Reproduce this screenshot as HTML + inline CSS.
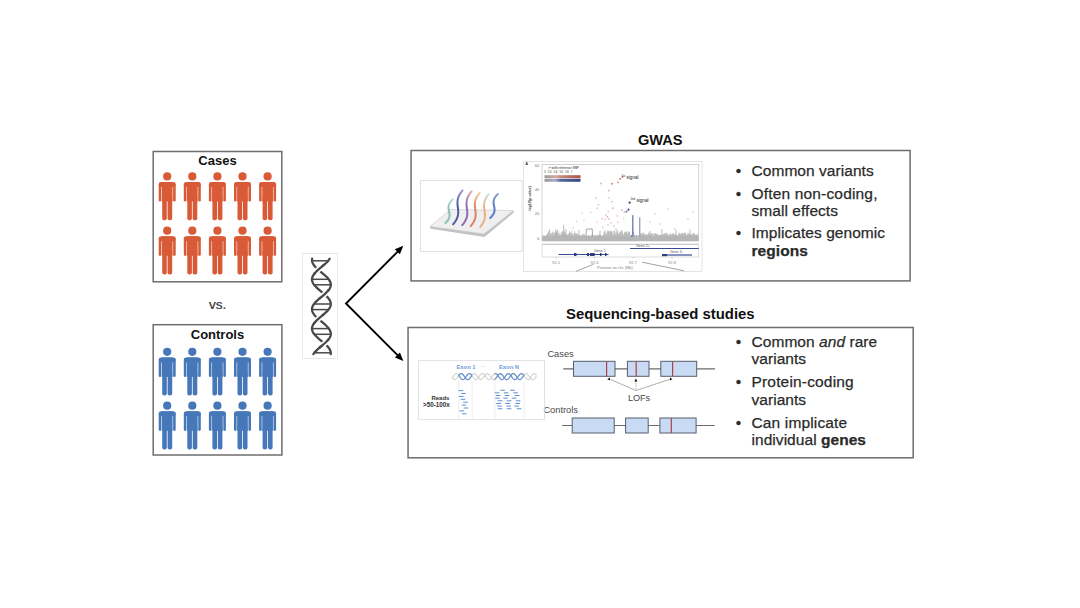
<!DOCTYPE html>
<html><head><meta charset="utf-8">
<style>
html,body{margin:0;padding:0;background:#fff;}
body{width:1080px;height:608px;position:relative;overflow:hidden;font-family:"Liberation Sans",sans-serif;color:#222;}
.abs{position:absolute;}
.box{position:absolute;border:1.3px solid #5f5f5f;box-sizing:border-box;}
.t{position:absolute;white-space:nowrap;line-height:1;}
.b{font-weight:bold;color:#111;}
ul.bl{position:absolute;margin:0;padding:0;list-style:none;font-size:15.5px;letter-spacing:0.05px;color:#2a2a2a;-webkit-text-stroke:0.25px #2a2a2a;}
ul.bl li{position:relative;padding-left:0;}
ul.bl li:before{content:"\2022";position:absolute;left:-15.7px;}
svg{position:absolute;overflow:visible;}
#gb li+li{margin-top:4.65px;}
#sb li+li{margin-top:6px;}
</style></head>
<body>
<svg width="0" height="0" style="position:absolute"><defs><g id="person">
<circle cx="9" cy="4.2" r="4.1"/>
<rect x="0.5" y="9.8" width="17" height="5" rx="2.4"/>
<rect x="0.5" y="11" width="2.6" height="18.4" rx="1.3"/>
<rect x="14.9" y="11" width="2.6" height="18.4" rx="1.3"/>
<rect x="3.65" y="9.8" width="10.7" height="19.5"/>
<rect x="4.0" y="24" width="4.6" height="24" rx="2"/>
<rect x="9.4" y="24" width="4.6" height="24" rx="2"/>
</g></defs></svg>
<svg id="boxes" style="left:0;top:0" width="1080" height="608"><rect x="153.2" y="151.5" width="128.6" height="130.3" fill="none" stroke="#6e6e6e" stroke-width="1.5"/><rect x="153.2" y="324.7" width="128.7" height="130.3" fill="none" stroke="#6e6e6e" stroke-width="1.5"/><rect x="411.05" y="150.5" width="499.05" height="130.4" fill="none" stroke="#6e6e6e" stroke-width="1.5"/><rect x="408.06" y="327.5" width="505.14" height="130.3" fill="none" stroke="#6e6e6e" stroke-width="1.5"/></svg>
<div class="t b" style="left:167.5px;width:100px;text-align:center;top:153.7px;font-size:13px;">Cases</div>
<svg style="left:0;top:0" width="1080" height="608" id="cases" fill="#d95a37">
<use href="#person" x="158.2" y="172.2"/>
<use href="#person" x="183.3" y="172.2"/>
<use href="#person" x="208.4" y="172.2"/>
<use href="#person" x="233.5" y="172.2"/>
<use href="#person" x="258.6" y="172.2"/>
<use href="#person" x="158.2" y="226.5"/>
<use href="#person" x="183.3" y="226.5"/>
<use href="#person" x="208.4" y="226.5"/>
<use href="#person" x="233.5" y="226.5"/>
<use href="#person" x="258.6" y="226.5"/>
</svg>
<div class="t" style="left:208.9px;top:297.7px;font-size:13.6px;color:#333;-webkit-text-stroke:0.2px #333;">vs.</div>
<div class="t b" style="left:167.5px;width:100px;text-align:center;top:328.3px;font-size:13px;">Controls</div>
<svg style="left:0;top:0" width="1080" height="608" id="controls" fill="#4678b9">
<use href="#person" x="158.2" y="347.6"/>
<use href="#person" x="183.3" y="347.6"/>
<use href="#person" x="208.4" y="347.6"/>
<use href="#person" x="233.5" y="347.6"/>
<use href="#person" x="258.6" y="347.6"/>
<use href="#person" x="158.2" y="401.5"/>
<use href="#person" x="183.3" y="401.5"/>
<use href="#person" x="208.4" y="401.5"/>
<use href="#person" x="233.5" y="401.5"/>
<use href="#person" x="258.6" y="401.5"/>
</svg>
<div class="abs" style="left:302px;top:253px;width:35.5px;height:106px;border:1px solid #e8e8e8;box-sizing:border-box;"></div>
<svg id="dna" style="left:0;top:0" width="1080" height="608"><line x1="312.05" y1="260.8" x2="328.17" y2="260.8" stroke="#484848" stroke-width="1.5"/>
<line x1="312" y1="279.3" x2="328.73" y2="279.3" stroke="#484848" stroke-width="1.5"/>
<line x1="314.15" y1="284.8" x2="330.8" y2="284.8" stroke="#484848" stroke-width="1.5"/>
<line x1="314" y1="304" x2="330.8" y2="304" stroke="#484848" stroke-width="1.5"/>
<line x1="312.01" y1="309.6" x2="328.5" y2="309.6" stroke="#484848" stroke-width="1.5"/>
<line x1="312" y1="328.6" x2="328.8" y2="328.6" stroke="#484848" stroke-width="1.5"/>
<line x1="314.38" y1="334.3" x2="330.78" y2="334.3" stroke="#484848" stroke-width="1.5"/>
<line x1="314.3" y1="352.8" x2="330.79" y2="352.8" stroke="#484848" stroke-width="1.5"/>
<path d="M329.66,258.7 L329.35,259.2 L329.02,259.7 L328.65,260.21 L328.25,260.71 L327.82,261.21 L327.37,261.71 L326.89,262.21 L326.39,262.72 L325.87,263.22 L325.33,263.72 L324.78,264.22 L324.21,264.73 L323.63,265.23 L323.04,265.73 L322.44,266.23 L321.84,266.73 L321.24,267.24 L320.64,267.74 L320.04,268.24 L319.44,268.74 L318.86,269.24 L318.28,269.75 L317.72,270.25 L317.17,270.75 L316.65,271.25 L316.14,271.75 L315.65,272.26 L315.18,272.76 L314.74,273.26 L314.33,273.76 L313.95,274.27 L313.6,274.77 L313.28,275.27 L312.99,275.77 L312.74,276.27 L312.52,276.78 L312.34,277.28 L312.2,277.78 L312.1,278.28 L312.03,278.78 L312,279.29 L312.01,279.79 L312.06,280.29 L312.15,280.79 L312.27,281.29 L312.44,281.8 L312.64,282.3 L312.87,282.8 L313.14,283.3 L313.45,283.81 L313.79,284.31 L314.16,284.81 L314.55,285.31 L314.98,285.81 L315.43,286.32 L315.91,286.82 L316.41,287.32 L316.93,287.82 L317.47,288.32 L318.03,288.83 L318.6,289.33 L319.18,289.83 L319.77,290.33 L320.36,290.83 L320.96,291.34 L321.57,291.84 L322.17,292.34 L322.77,292.84 L323.36,293.35 L323.95,293.85 L324.52,294.35 L325.08,294.85 L325.63,295.35 L326.16,295.86 L326.67,296.36 L327.16,296.86 L327.62,297.36 L328.06,297.86 L328.47,298.37 L328.85,298.87 L329.2,299.37 L329.52,299.87 L329.81,300.37 L330.06,300.88 L330.28,301.38 L330.46,301.88 L330.6,302.38 L330.7,302.89 L330.77,303.39 L330.8,303.89 L330.79,304.39 L330.74,304.89 L330.65,305.4 L330.53,305.9 L330.36,306.4 L330.16,306.9 L329.93,307.4 L329.65,307.91 L329.35,308.41 L329.01,308.91 L328.64,309.41 L328.24,309.91 L327.82,310.42 L327.36,310.92 L326.89,311.42 L326.38,311.92 L325.86,312.43 L325.32,312.93 L324.77,313.43 L324.2,313.93 L323.62,314.43 L323.03,314.94 L322.43,315.44 L321.83,315.94 L321.23,316.44 L320.63,316.94 L320.03,317.45 L319.44,317.95 L318.85,318.45 L318.28,318.95 L317.71,319.45 L317.17,319.96 L316.64,320.46 L316.13,320.96 L315.64,321.46 L315.18,321.97 L314.74,322.47 L314.33,322.97 L313.94,323.47 L313.59,323.97 L313.27,324.48 L312.99,324.98 L312.74,325.48 L312.52,325.98 L312.34,326.48 L312.2,326.99 L312.09,327.49 L312.03,327.99 L312,328.49 L312.01,328.99 L312.06,329.5 L312.15,330 L312.28,330.5 L312.44,331 L312.64,331.51 L312.88,332.01 L313.15,332.51 L313.45,333.01 L313.79,333.51 L314.16,334.02 L314.56,334.52 L314.99,335.02 L315.44,335.52 L315.92,336.02 L316.42,336.53 L316.94,337.03 L317.48,337.53 L318.03,338.03 L318.6,338.53 L319.18,339.04 L319.77,339.54 L320.37,340.04 L320.97,340.54 L321.57,341.05 L322.18,341.55 L322.77,342.05 L323.37,342.55 L323.95,343.05 L324.53,343.56 L325.09,344.06 L325.64,344.56 L326.16,345.06 L326.67,345.56 L327.16,346.07 L327.63,346.57 L328.06,347.07 L328.48,347.57 L328.86,348.07 L329.21,348.58 L329.53,349.08 L329.81,349.58 L330.07,350.08 L330.28,350.59 L330.46,351.09 L330.6,351.59 L330.71,352.09 L330.77,352.59 L330.8,353.1 L330.79,353.6 L330.74,354.1" fill="none" stroke="#484848" stroke-width="2.3" stroke-linecap="round"/>
<path d="M312.13,258.7 L312.05,259.2 L312.01,259.7 L312,260.21 L312.04,260.71 L312.11,261.21 L312.22,261.71 L312.37,262.21 L312.56,262.72 L312.78,263.22 L313.04,263.72 L313.33,264.22 L313.66,264.73 L314.02,265.23 L314.41,265.73 L314.82,266.23 L315.27,266.73 L315.74,267.24 L316.23,267.74 L316.74,268.24 L317.27,268.74 L317.82,269.24 L318.39,269.75 L318.97,270.25 L319.55,270.75 L320.15,271.25 L320.75,271.75 L321.35,272.26 L321.95,272.76 L322.55,273.26 L323.15,273.76 L323.73,274.27 L324.31,274.77 L324.88,275.27 L325.43,275.77 L325.97,276.27 L326.49,276.78 L326.98,277.28 L327.45,277.78 L327.9,278.28 L328.32,278.78 L328.72,279.29 L329.08,279.79 L329.41,280.29 L329.71,280.79 L329.97,281.29 L330.2,281.8 L330.4,282.3 L330.55,282.8 L330.67,283.3 L330.75,283.81 L330.79,284.31 L330.8,284.81 L330.76,285.31 L330.69,285.81 L330.58,286.32 L330.43,286.82 L330.24,287.32 L330.02,287.82 L329.76,288.32 L329.46,288.83 L329.14,289.33 L328.78,289.83 L328.39,290.33 L327.97,290.83 L327.53,291.34 L327.06,291.84 L326.57,292.34 L326.06,292.84 L325.52,293.35 L324.97,293.85 L324.41,294.35 L323.83,294.85 L323.24,295.35 L322.65,295.86 L322.05,296.36 L321.45,296.86 L320.85,297.36 L320.25,297.86 L319.65,298.37 L319.06,298.87 L318.48,299.37 L317.92,299.87 L317.36,300.37 L316.83,300.88 L316.31,301.38 L315.82,301.88 L315.34,302.38 L314.89,302.89 L314.47,303.39 L314.08,303.89 L313.72,304.39 L313.39,304.89 L313.09,305.4 L312.82,305.9 L312.59,306.4 L312.4,306.9 L312.25,307.4 L312.13,307.91 L312.05,308.41 L312.01,308.91 L312,309.41 L312.04,309.91 L312.11,310.42 L312.23,310.92 L312.38,311.42 L312.56,311.92 L312.79,312.43 L313.04,312.93 L313.34,313.43 L313.66,313.93 L314.02,314.43 L314.41,314.94 L314.83,315.44 L315.27,315.94 L315.74,316.44 L316.23,316.94 L316.75,317.45 L317.28,317.95 L317.83,318.45 L318.4,318.95 L318.97,319.45 L319.56,319.96 L320.15,320.46 L320.75,320.96 L321.36,321.46 L321.96,321.97 L322.56,322.47 L323.15,322.97 L323.74,323.47 L324.32,323.97 L324.89,324.48 L325.44,324.98 L325.97,325.48 L326.49,325.98 L326.99,326.48 L327.46,326.99 L327.91,327.49 L328.33,327.99 L328.72,328.49 L329.08,328.99 L329.42,329.5 L329.71,330 L329.98,330.5 L330.21,331 L330.4,331.51 L330.55,332.01 L330.67,332.51 L330.75,333.01 L330.79,333.51 L330.8,334.02 L330.76,334.52 L330.69,335.02 L330.57,335.52 L330.42,336.02 L330.24,336.53 L330.01,337.03 L329.75,337.53 L329.46,338.03 L329.13,338.53 L328.78,339.04 L328.39,339.54 L327.97,340.04 L327.52,340.54 L327.06,341.05 L326.56,341.55 L326.05,342.05 L325.52,342.55 L324.97,343.05 L324.4,343.56 L323.82,344.06 L323.24,344.56 L322.64,345.06 L322.04,345.56 L321.44,346.07 L320.84,346.57 L320.24,347.07 L319.64,347.57 L319.05,348.07 L318.48,348.58 L317.91,349.08 L317.36,349.58 L316.82,350.08 L316.31,350.59 L315.81,351.09 L315.34,351.59 L314.89,352.09 L314.47,352.59 L314.08,353.1 L313.71,353.6 L313.38,354.1" fill="none" stroke="#484848" stroke-width="2.3" stroke-linecap="round"/>
<path d="M322.12,266.5 L321.48,267.03 L320.84,267.57 L320.2,268.1 L319.57,268.63 L318.95,269.17 L318.34,269.7 L317.74,270.23 L317.16,270.77 L316.6,271.3 L316.06,271.83 L315.54,272.37 L315.06,272.9" fill="none" stroke="#fff" stroke-width="5.6"/>
<path d="M323.66,265.2 L323.07,265.7 L322.48,266.2 L321.88,266.7 L321.28,267.2 L320.68,267.7 L320.08,268.2 L319.49,268.7 L318.91,269.2 L318.34,269.7 L317.78,270.2 L317.23,270.7 L316.7,271.2 L316.19,271.7 L315.7,272.2 L315.24,272.7 L314.8,273.2 L314.38,273.7 L314,274.2" fill="none" stroke="#484848" stroke-width="2.3"/>
<path d="M327.74,291.1 L327.26,291.63 L326.74,292.17 L326.2,292.7 L325.64,293.23 L325.06,293.77 L324.46,294.3 L323.85,294.83 L323.23,295.37 L322.6,295.9 L321.96,296.43 L321.32,296.97 L320.68,297.5" fill="none" stroke="#fff" stroke-width="5.6"/>
<path d="M328.8,289.8 L328.42,290.3 L328,290.8 L327.56,291.3 L327.1,291.8 L326.61,292.3 L326.1,292.8 L325.57,293.3 L325.02,293.8 L324.46,294.3 L323.89,294.8 L323.31,295.3 L322.72,295.8 L322.12,296.3 L321.52,296.8 L320.92,297.3 L320.32,297.8 L319.73,298.3 L319.14,298.8" fill="none" stroke="#484848" stroke-width="2.3"/>
<path d="M322.12,315.7 L321.48,316.23 L320.84,316.77 L320.2,317.3 L319.57,317.83 L318.95,318.37 L318.34,318.9 L317.74,319.43 L317.16,319.97 L316.6,320.5 L316.06,321.03 L315.54,321.57 L315.06,322.1" fill="none" stroke="#fff" stroke-width="5.6"/>
<path d="M323.66,314.4 L323.07,314.9 L322.48,315.4 L321.88,315.9 L321.28,316.4 L320.68,316.9 L320.08,317.4 L319.49,317.9 L318.91,318.4 L318.34,318.9 L317.78,319.4 L317.23,319.9 L316.7,320.4 L316.19,320.9 L315.7,321.4 L315.24,321.9 L314.8,322.4 L314.38,322.9 L314,323.4" fill="none" stroke="#484848" stroke-width="2.3"/>
<path d="M327.74,340.3 L327.26,340.83 L326.74,341.37 L326.2,341.9 L325.64,342.43 L325.06,342.97 L324.46,343.5 L323.85,344.03 L323.23,344.57 L322.6,345.1 L321.96,345.63 L321.32,346.17 L320.68,346.7" fill="none" stroke="#fff" stroke-width="5.6"/>
<path d="M328.8,339 L328.42,339.5 L328,340 L327.56,340.5 L327.1,341 L326.61,341.5 L326.1,342 L325.57,342.5 L325.02,343 L324.46,343.5 L323.89,344 L323.31,344.5 L322.72,345 L322.12,345.5 L321.52,346 L320.92,346.5 L320.32,347 L319.73,347.5 L319.14,348" fill="none" stroke="#484848" stroke-width="2.3"/></svg>
<svg id="arrows" style="left:0;top:0" width="1080" height="608"><path d="M398.5,250.8 L346,303.5 L398.5,356.2" fill="none" stroke="#000" stroke-width="1.9" stroke-linejoin="miter"/><path d="M403.3,245.8 L399.86,254.37 L394.76,249.29 z" fill="#000"/><path d="M403.4,361 L394.85,357.53 L399.94,352.44 z" fill="#000"/></svg>
<div class="t b" style="left:638px;top:133px;font-size:14.6px;">GWAS</div>
<svg id="gwas" style="left:0;top:0" width="1080" height="608" font-family="Liberation Sans, sans-serif">
<rect x="420.5" y="180.5" width="101.5" height="71" fill="#fff" stroke="#e2e2e2" stroke-width="1"/>
<path d="M430,226.5 L450.5,209.5 L513.5,210.5 L484,234 z" fill="#efefef" stroke="#d0d0d0" stroke-width="0.8"/>
<path d="M430,226.5 L484,234 L513.5,210.5 L513.5,212.8 L484.5,237 L430.5,228.8 z" fill="#c2c2c2"/>
<defs><linearGradient id="sg0" gradientUnits="userSpaceOnUse" x1="452.7" y1="199.5" x2="445.4" y2="223"><stop offset="0" stop-color="#b9ddd5"/><stop offset="0.45" stop-color="#86c0b4"/><stop offset="1" stop-color="#86c0b4"/></linearGradient><linearGradient id="sg1" gradientUnits="userSpaceOnUse" x1="462.6" y1="190.4" x2="453.1" y2="224.3"><stop offset="0" stop-color="#a895cb"/><stop offset="0.45" stop-color="#4a5ea8"/><stop offset="1" stop-color="#4a5ea8"/></linearGradient><linearGradient id="sg2" gradientUnits="userSpaceOnUse" x1="471.6" y1="191.3" x2="462.2" y2="225.2"><stop offset="0" stop-color="#e3aea6"/><stop offset="0.45" stop-color="#8c6cb4"/><stop offset="1" stop-color="#8c6cb4"/></linearGradient><linearGradient id="sg3" gradientUnits="userSpaceOnUse" x1="479.8" y1="192.7" x2="470.7" y2="226.1"><stop offset="0" stop-color="#f3cfa8"/><stop offset="0.45" stop-color="#dc8261"/><stop offset="1" stop-color="#dc8261"/></linearGradient><linearGradient id="sg4" gradientUnits="userSpaceOnUse" x1="488.8" y1="194" x2="480.2" y2="227"><stop offset="0" stop-color="#c4e2da"/><stop offset="0.45" stop-color="#ebb07c"/><stop offset="1" stop-color="#ebb07c"/></linearGradient><linearGradient id="sg5" gradientUnits="userSpaceOnUse" x1="497.9" y1="194" x2="490.2" y2="218"><stop offset="0" stop-color="#8ea3d6"/><stop offset="0.45" stop-color="#5b7cc3"/><stop offset="1" stop-color="#5b7cc3"/></linearGradient></defs>
<polyline points="452.7,199.5 451.74,200.48 450.89,201.46 450.16,202.44 449.57,203.42 449.11,204.4 448.79,205.38 448.59,206.35 448.52,207.33 448.56,208.31 448.67,209.29 448.85,210.27 449.05,211.25 449.25,212.23 449.43,213.21 449.54,214.19 449.58,215.17 449.51,216.15 449.31,217.12 448.99,218.1 448.53,219.08 447.94,220.06 447.21,221.04 446.36,222.02 445.4,223" fill="none" stroke="url(#sg0)" stroke-width="2" stroke-linecap="round" stroke-linejoin="round"/>
<polyline points="462.6,190.4 461.44,191.81 460.42,193.22 459.55,194.64 458.83,196.05 458.27,197.46 457.87,198.88 457.61,200.29 457.48,201.7 457.47,203.11 457.54,204.53 457.68,205.94 457.85,207.35 458.02,208.76 458.16,210.18 458.23,211.59 458.22,213 458.09,214.41 457.83,215.83 457.43,217.24 456.87,218.65 456.15,220.06 455.28,221.48 454.26,222.89 453.1,224.3" fill="none" stroke="url(#sg1)" stroke-width="2" stroke-linecap="round" stroke-linejoin="round"/>
<polyline points="471.6,191.3 470.45,192.71 469.44,194.12 468.57,195.54 467.86,196.95 467.31,198.36 466.9,199.78 466.65,201.19 466.52,202.6 466.51,204.01 466.59,205.43 466.73,206.84 466.9,208.25 467.07,209.66 467.21,211.07 467.29,212.49 467.28,213.9 467.15,215.31 466.9,216.72 466.49,218.14 465.94,219.55 465.23,220.96 464.36,222.38 463.35,223.79 462.2,225.2" fill="none" stroke="url(#sg2)" stroke-width="2" stroke-linecap="round" stroke-linejoin="round"/>
<polyline points="479.8,192.7 478.68,194.09 477.69,195.48 476.84,196.88 476.15,198.27 475.61,199.66 475.22,201.05 474.97,202.44 474.85,203.83 474.85,205.22 474.93,206.62 475.07,208.01 475.25,209.4 475.43,210.79 475.57,212.18 475.65,213.57 475.65,214.97 475.53,216.36 475.28,217.75 474.89,219.14 474.35,220.53 473.66,221.92 472.81,223.32 471.82,224.71 470.7,226.1" fill="none" stroke="url(#sg3)" stroke-width="2" stroke-linecap="round" stroke-linejoin="round"/>
<polyline points="488.8,194 487.72,195.38 486.77,196.75 485.96,198.12 485.29,199.5 484.77,200.88 484.4,202.25 484.17,203.62 484.07,205 484.07,206.38 484.16,207.75 484.32,209.12 484.5,210.5 484.68,211.88 484.84,213.25 484.93,214.62 484.93,216 484.83,217.38 484.6,218.75 484.23,220.12 483.71,221.5 483.04,222.88 482.23,224.25 481.28,225.62 480.2,227" fill="none" stroke="url(#sg4)" stroke-width="2" stroke-linecap="round" stroke-linejoin="round"/>
<polyline points="497.9,194 496.9,195 496.02,196 495.27,197 494.65,198 494.17,199 493.84,200 493.63,201 493.55,202 493.58,203 493.69,204 493.85,205 494.05,206 494.25,207 494.41,208 494.52,209 494.55,210 494.47,211 494.26,212 493.93,213 493.45,214 492.83,215 492.08,216 491.2,217 490.2,218" fill="none" stroke="url(#sg5)" stroke-width="2" stroke-linecap="round" stroke-linejoin="round"/>
<rect x="523.5" y="161.5" width="178.5" height="110" fill="none" stroke="#e4e4e4" stroke-width="1"/>
<rect x="542" y="164.5" width="156.7" height="76.5" fill="none" stroke="#c8c8c8" stroke-width="0.8"/>
<line x1="542" y1="244.3" x2="698.7" y2="244.3" stroke="#bdbdbd" stroke-width="1"/>
<rect x="542" y="244.3" width="156.7" height="12.7" fill="none" stroke="#cfcfcf" stroke-width="0.7"/>
<text x="539.3" y="167" font-size="4.2" fill="#777" text-anchor="end">60</text>
<text x="539.3" y="191" font-size="4.2" fill="#777" text-anchor="end">40</text>
<text x="539.3" y="215" font-size="4.2" fill="#777" text-anchor="end">20</text>
<text x="539.3" y="240" font-size="4.2" fill="#777" text-anchor="end">0</text>
<text x="530.7" y="199" font-size="3.6" font-weight="bold" fill="#444" text-anchor="middle" transform="rotate(-90 530.7 199)">-log10(p-value)</text>
<text x="525.3" y="165.2" font-size="4" font-weight="bold" fill="#333">A</text>
<rect x="542.3" y="236.8" width="156" height="4" fill="#b9b9b9"/>
<polygon points="542.3,241 542.3,235.48 542.85,235.76 543.4,234.96 543.95,235.88 544.5,235.14 545.05,235.41 545.6,235.91 546.15,234.94 546.7,234.85 547.25,233.1 547.8,233.87 548.35,231.56 548.9,230.73 549.45,229.02 550,230.35 550.55,234.6 551.1,233.81 551.65,233.52 552.2,230.92 552.75,231.84 553.3,235.51 553.85,231.25 554.4,233.27 554.95,232.12 555.5,230.36 556.05,233.29 556.6,231.67 557.15,229.86 557.7,229.17 558.25,233.09 558.8,233.8 559.35,234.96 559.9,229.96 560.45,235.08 561,234.6 561.55,231.67 562.1,231.86 562.65,230.65 563.2,231.88 563.75,234.6 564.3,231.32 564.85,229.89 565.4,233.42 565.95,234.81 566.5,234.34 567.05,235.49 567.6,234.06 568.15,233.45 568.7,234.16 569.25,232.26 569.8,230.08 570.35,233.09 570.9,233.36 571.45,229.32 572,234.79 572.55,234.35 573.1,231.98 573.65,235.56 574.2,233.3 574.75,229.85 575.3,233.61 575.85,233.32 576.4,233.66 576.95,232.57 577.5,233.74 578.05,235.1 578.6,234.83 579.15,235.37 579.7,234.89 580.25,235.92 580.8,235.5 581.35,235.35 581.9,233.07 582.45,235.13 583,234.53 583.55,233.68 584.1,233.25 584.65,235.01 585.2,235.84 585.75,235.45 586.3,235.58 586.85,234.67 587.4,235.74 587.95,235.96 588.5,234.48 589.05,235.15 589.6,235.77 590.15,235.13 590.7,235.96 591.25,235.16 591.8,234.43 592.35,234.62 592.9,234.89 593.45,235.58 594,235.41 594.55,235.73 595.1,234.76 595.65,235.15 596.2,234.75 596.75,235.47 597.3,235.64 597.85,234.7 598.4,234.42 598.95,234.64 599.5,234.71 600.05,234.69 600.6,234.82 601.15,235.64 601.7,235.17 602.25,235.43 602.8,235.95 603.35,234.28 603.9,231.43 604.45,231.79 605,228.57 605.55,232.28 606.1,234.29 606.65,234.46 607.2,229.6 607.75,231.78 608.3,230.16 608.85,231.9 609.4,229.85 609.95,231.93 610.5,230.98 611.05,230.66 611.6,232.07 612.15,229.68 612.7,233.82 613.25,234.89 613.8,229.71 614.35,230.81 614.9,230.49 615.45,232.15 616,235.7 616.55,230.55 617.1,229.56 617.65,230.08 618.2,233.41 618.75,233.84 619.3,232.1 619.85,233.07 620.4,230.33 620.95,232.68 621.5,229.64 622.05,229.82 622.6,232.01 623.15,235.05 623.7,234.2 624.25,231.2 624.8,232.88 625.35,231.5 625.9,232.37 626.45,230.41 627,232.47 627.55,233.94 628.1,231.72 628.65,230.54 629.2,231.88 629.75,231.99 630.3,235.18 630.85,234.89 631.4,235.28 631.95,235.15 632.5,235.24 633.05,234.49 633.6,234.88 634.15,234.6 634.7,234.49 635.25,235.58 635.8,235.1 636.35,234.49 636.9,234.66 637.45,235.78 638,235.81 638.55,235.29 639.1,235.88 639.65,235.61 640.2,234.01 640.75,232.23 641.3,233.75 641.85,234.54 642.4,231.88 642.95,232.98 643.5,234 644.05,232.09 644.6,234.53 645.15,234.23 645.7,234.79 646.25,234.79 646.8,233.88 647.35,235.04 647.9,233.57 648.45,233.14 649,232.02 649.55,235.09 650.1,233.76 650.65,235.2 651.2,232.77 651.75,233.97 652.3,233.19 652.85,233.13 653.4,235.7 653.95,233.71 654.5,233.26 655.05,232.74 655.6,233.47 656.15,233.48 656.7,234.32 657.25,232.52 657.8,235.21 658.35,234.49 658.9,235.37 659.45,235.35 660,234.65 660.55,233.97 661.1,234.7 661.65,235.39 662.2,235.56 662.75,233.28 663.3,234.37 663.85,234.21 664.4,233.48 664.95,232.87 665.5,233.95 666.05,232.15 666.6,233.12 667.15,233.09 667.7,234.38 668.25,235.55 668.8,233.81 669.35,235.13 669.9,233.51 670.45,232.73 671,234.87 671.55,234.24 672.1,234.5 672.65,232.89 673.2,232.91 673.75,232.91 674.3,234.51 674.85,234.93 675.4,233.83 675.95,234.27 676.5,235.25 677.05,234.74 677.6,235.87 678.15,234.86 678.7,233.58 679.25,232.96 679.8,232.39 680.35,234.46 680.9,234.01 681.45,233.04 682,233.59 682.55,232.82 683.1,232.55 683.65,234.31 684.2,232.86 684.75,232.4 685.3,232.57 685.85,232.97 686.4,235.54 686.95,234.78 687.5,233.49 688.05,233.35 688.6,233.09 689.15,235.21 689.7,232.63 690.25,233.7 690.8,234.76 691.35,234.11 691.9,235.14 692.45,234.26 693,232.08 693.55,234.14 694.1,233.32 694.65,233.05 695.2,234.75 695.75,235.05 696.3,233.96 696.85,235.06 697.4,235.15 697.95,232.99 698.5,234.92 698.5,241" fill="#bdbdbd"/>
<rect x="542.3" y="236.3" width="156.2" height="4.5" fill="#b6b6b6"/>
<line x1="563.7" y1="237" x2="563.7" y2="224.6" stroke="#aaa" stroke-width="0.8"/>
<line x1="566" y1="237" x2="566" y2="229" stroke="#aaa" stroke-width="0.8"/>
<line x1="556" y1="237" x2="556" y2="229.5" stroke="#aaa" stroke-width="0.8"/>
<line x1="579" y1="237" x2="579" y2="230" stroke="#aaa" stroke-width="0.8"/>
<line x1="600" y1="237" x2="600" y2="231" stroke="#aaa" stroke-width="0.8"/>
<line x1="633" y1="237" x2="633" y2="229" stroke="#aaa" stroke-width="0.8"/>
<line x1="650" y1="237" x2="650" y2="231" stroke="#aaa" stroke-width="0.8"/>
<line x1="662" y1="237" x2="662" y2="229" stroke="#aaa" stroke-width="0.8"/>
<line x1="676" y1="237" x2="676" y2="230" stroke="#aaa" stroke-width="0.8"/>
<line x1="690" y1="237" x2="690" y2="229.5" stroke="#aaa" stroke-width="0.8"/>
<path d="M586,236.5 L586.3,229.2 L592.2,228.8 L592.6,236.5" fill="none" stroke="#9c9ca8" stroke-width="0.9"/>
<circle cx="601" cy="183.5" r="0.95" fill="rgb(206,137,137)" fill-opacity="0.62"/>
<circle cx="612" cy="183.8" r="0.95" fill="rgb(190,95,95)" fill-opacity="0.8"/>
<circle cx="618" cy="182.4" r="0.95" fill="rgb(194,105,105)" fill-opacity="0.76"/>
<circle cx="620.1" cy="178.9" r="0.95" fill="rgb(190,95,95)" fill-opacity="0.8"/>
<circle cx="622.5" cy="177" r="0.95" fill="rgb(190,95,95)" fill-opacity="0.8"/>
<circle cx="609" cy="190.8" r="0.95" fill="rgb(206,137,137)" fill-opacity="0.62"/>
<circle cx="596.1" cy="198" r="0.95" fill="rgb(214,158,158)" fill-opacity="0.53"/>
<circle cx="609" cy="198" r="0.95" fill="rgb(214,158,158)" fill-opacity="0.53"/>
<circle cx="612" cy="201.7" r="0.95" fill="rgb(210,147,147)" fill-opacity="0.57"/>
<circle cx="598.5" cy="204.8" r="0.95" fill="rgb(214,158,158)" fill-opacity="0.53"/>
<circle cx="597.1" cy="208.3" r="0.95" fill="rgb(214,158,158)" fill-opacity="0.53"/>
<circle cx="612.9" cy="208.3" r="0.95" fill="rgb(206,137,137)" fill-opacity="0.62"/>
<circle cx="590.8" cy="212.4" r="0.95" fill="rgb(218,168,168)" fill-opacity="0.48"/>
<circle cx="622" cy="210" r="0.95" fill="rgb(206,137,137)" fill-opacity="0.62"/>
<circle cx="624.3" cy="212" r="0.95" fill="rgb(210,147,147)" fill-opacity="0.57"/>
<circle cx="608.3" cy="211.5" r="0.95" fill="rgb(214,158,158)" fill-opacity="0.53"/>
<circle cx="606" cy="215" r="0.95" fill="rgb(210,147,147)" fill-opacity="0.57"/>
<circle cx="607.5" cy="217" r="0.95" fill="rgb(206,137,137)" fill-opacity="0.62"/>
<circle cx="609" cy="219" r="0.95" fill="rgb(210,147,147)" fill-opacity="0.57"/>
<circle cx="605" cy="219.5" r="0.95" fill="rgb(214,158,158)" fill-opacity="0.53"/>
<circle cx="602" cy="218.7" r="0.95" fill="rgb(214,158,158)" fill-opacity="0.53"/>
<circle cx="617.3" cy="216" r="0.95" fill="rgb(214,158,158)" fill-opacity="0.53"/>
<circle cx="597" cy="222.2" r="0.95" fill="rgb(218,168,168)" fill-opacity="0.48"/>
<circle cx="576.8" cy="221.5" r="0.95" fill="rgb(218,168,168)" fill-opacity="0.48"/>
<circle cx="583.8" cy="220.1" r="0.95" fill="rgb(218,168,168)" fill-opacity="0.48"/>
<circle cx="618" cy="222.2" r="0.95" fill="rgb(218,168,168)" fill-opacity="0.48"/>
<circle cx="623.6" cy="218.7" r="0.95" fill="rgb(218,168,168)" fill-opacity="0.48"/>
<circle cx="611" cy="223" r="0.95" fill="rgb(214,158,158)" fill-opacity="0.53"/>
<circle cx="614" cy="226" r="0.95" fill="rgb(214,158,158)" fill-opacity="0.53"/>
<circle cx="608" cy="225" r="0.95" fill="rgb(214,158,158)" fill-opacity="0.53"/>
<circle cx="616" cy="229" r="0.95" fill="rgb(214,158,158)" fill-opacity="0.53"/>
<circle cx="603" cy="227" r="0.95" fill="rgb(218,168,168)" fill-opacity="0.48"/>
<circle cx="655" cy="214" r="0.95" fill="rgb(218,168,168)" fill-opacity="0.48"/>
<circle cx="668" cy="209" r="0.95" fill="rgb(218,168,168)" fill-opacity="0.48"/>
<circle cx="688" cy="219" r="0.95" fill="rgb(218,168,168)" fill-opacity="0.48"/>
<circle cx="675" cy="229" r="0.95" fill="rgb(218,168,168)" fill-opacity="0.48"/>
<circle cx="582" cy="213" r="0.95" fill="rgb(220,173,173)" fill-opacity="0.46"/>
<circle cx="573" cy="228" r="0.95" fill="rgb(218,168,168)" fill-opacity="0.48"/>
<circle cx="650" cy="222" r="0.95" fill="rgb(218,168,168)" fill-opacity="0.48"/>
<circle cx="693" cy="212" r="0.95" fill="rgb(218,168,168)" fill-opacity="0.48"/>
<circle cx="660" cy="224" r="0.95" fill="rgb(218,168,168)" fill-opacity="0.48"/>
<circle cx="628.5" cy="209.7" r="1.1" fill="#3e4f97"/>
<circle cx="626.4" cy="211.7" r="1.1" fill="#7f89bd"/>
<circle cx="629.7" cy="202.7" r="1.1" fill="#2e3d85"/>
<circle cx="633" cy="233" r="1.1" fill="#6a75b0"/>
<circle cx="632" cy="236" r="1.1" fill="#6a75b0"/>
<rect x="632" y="215.2" width="1.5" height="21.5" fill="#7c88c2"/>
<rect x="639" y="217.3" width="1.4" height="19.5" fill="#9aa2cc"/>
<text x="621.5" y="178.6" font-size="4.6" fill="#222"><tspan font-size="2.8" dy="-1.6">1st</tspan><tspan dy="1.6"> signal</tspan></text>
<text x="630.5" y="202" font-size="4.6" fill="#222"><tspan font-size="2.8" dy="-1.6">2nd</tspan><tspan dy="1.6"> signal</tspan></text>
<text x="548.5" y="169" font-size="3" font-weight="bold" fill="#666">r² with reference SNP</text>
<text x="544.3" y="173" font-size="2.6" font-weight="bold" fill="#777" xml:space="preserve">0   0.2   0.4   0.6   0.8   1</text>
<defs><linearGradient id="gr" x1="0" x2="1"><stop offset="0" stop-color="#9a9a9a"/><stop offset="0.3" stop-color="#d0aaa4"/><stop offset="0.45" stop-color="#c98a80"/><stop offset="1" stop-color="#b0503f"/></linearGradient><linearGradient id="gb2" x1="0" x2="1"><stop offset="0" stop-color="#9a9a9a"/><stop offset="0.3" stop-color="#a9abc8"/><stop offset="0.45" stop-color="#56679f"/><stop offset="1" stop-color="#34437e"/></linearGradient></defs>
<rect x="544.5" y="175.2" width="36" height="3" fill="url(#gr)"/>
<rect x="544.5" y="178.8" width="36" height="3" fill="url(#gb2)"/>
<line x1="558.5" y1="254.5" x2="608.5" y2="254.5" stroke="#3a4a8f" stroke-width="1.2"/>
<rect x="574" y="253" width="2.5" height="3" fill="#2e3c80"/>
<rect x="587" y="253" width="2" height="3" fill="#2e3c80"/>
<rect x="590" y="253" width="3" height="3" fill="#2e3c80"/>
<rect x="592.5" y="253" width="2.2" height="3" fill="#2e3c80"/>
<rect x="600" y="253" width="1.5" height="3" fill="#2e3c80"/>
<rect x="605" y="253" width="1.5" height="3" fill="#2e3c80"/>
<text x="594" y="251.5" font-size="3.6" fill="#555">Gene 1</text>
<line x1="630" y1="248.5" x2="698.7" y2="248.5" stroke="#3a4a8f" stroke-width="1.1"/>
<text x="636" y="247" font-size="3.6" fill="#555">Gene 2+</text>
<line x1="662" y1="255" x2="692" y2="255" stroke="#3a4a8f" stroke-width="1.2"/>
<rect x="662" y="254" width="5" height="2.2" fill="#2e3c80"/>
<text x="670" y="252.8" font-size="3.6" fill="#555">Gene 3-</text>
<line x1="556" y1="257" x2="556" y2="258.3" stroke="#999" stroke-width="0.5"/>
<text x="556" y="263.5" font-size="4" fill="#888" text-anchor="middle">92.5</text>
<line x1="594.5" y1="257" x2="594.5" y2="258.3" stroke="#999" stroke-width="0.5"/>
<text x="594.5" y="263.5" font-size="4" fill="#888" text-anchor="middle">92.6</text>
<line x1="633" y1="257" x2="633" y2="258.3" stroke="#999" stroke-width="0.5"/>
<text x="633" y="263.5" font-size="4" fill="#888" text-anchor="middle">92.7</text>
<line x1="672" y1="257" x2="672" y2="258.3" stroke="#999" stroke-width="0.5"/>
<text x="672" y="263.5" font-size="4" fill="#888" text-anchor="middle">92.8</text>
<text x="615" y="268.5" font-size="4" fill="#888" text-anchor="middle">Position on chr (Mb)</text>
<line x1="576" y1="271.3" x2="593.5" y2="264.3" stroke="#8a8a8a" stroke-width="0.8"/>
<line x1="642" y1="262.2" x2="684" y2="270.8" stroke="#8a8a8a" stroke-width="0.8"/>
</svg>
<ul class="bl" style="left:751.5px;top:162.3px;line-height:17.6px;" id="gb">
<li>Common variants</li>
<li><span style="letter-spacing:0.17px">Often non-coding,</span><br>small effects</li>
<li>Implicates genomic<br><b>regions</b></li>
</ul>
<div class="t b" style="left:566px;top:306.6px;font-size:14.9px;">Sequencing-based studies</div>
<svg id="seq" style="left:0;top:0" width="1080" height="608" font-family="Liberation Sans, sans-serif">
<rect x="418.5" y="360.5" width="126" height="59" fill="#fff" stroke="#e4e4e4" stroke-width="1"/>
<line x1="458.6" y1="380" x2="458.6" y2="419.5" stroke="#e6e6e6" stroke-width="0.7"/>
<line x1="472.2" y1="380" x2="472.2" y2="419.5" stroke="#e6e6e6" stroke-width="0.7"/>
<line x1="494.9" y1="380" x2="494.9" y2="419.5" stroke="#e6e6e6" stroke-width="0.7"/>
<line x1="524.1" y1="380" x2="524.1" y2="419.5" stroke="#e6e6e6" stroke-width="0.7"/>
<text x="456.5" y="368.8" font-size="5.8" font-weight="bold" fill="#6d9ad9">Exon 1</text>
<text x="481" y="366.8" font-size="4" fill="#9ab" letter-spacing="-0.4">----</text>
<text x="499" y="368.8" font-size="5.8" font-weight="bold" fill="#6d9ad9">Exon N</text>
<polyline points="452,377.32 452.4,377.86 452.8,378.36 453.2,378.79 453.59,379.14 453.99,379.4 454.39,379.56 454.79,379.6 455.19,379.53 455.59,379.36 455.99,379.08 456.38,378.71 456.78,378.26 457.18,377.76 457.58,377.2 457.98,376.63 458.38,376.06 458.78,375.5 459.17,374.99 459.57,374.53 459.97,374.15 460.37,373.87 460.77,373.68 461.17,373.6 461.57,373.63 461.96,373.78 462.36,374.02 462.76,374.37 463.16,374.79 463.56,375.28 463.96,375.82 464.36,376.39 464.75,376.97 465.15,377.53 465.55,378.06 465.95,378.54 466.35,378.94 466.75,379.25 467.15,379.47 467.54,379.59 467.94,379.59 468.34,379.48 468.74,379.26 469.14,378.95 469.54,378.55 469.94,378.08 470.33,377.55 470.73,376.99 471.13,376.41 471.53,375.84 471.93,375.3 472.33,374.8 472.73,374.38 473.12,374.03 473.52,373.78 473.92,373.64 474.32,373.6 474.72,373.68 475.12,373.86 475.52,374.14 475.92,374.52 476.31,374.97 476.71,375.49 477.11,376.04 477.51,376.61 477.91,377.19 478.31,377.74 478.71,378.25 479.1,378.7 479.5,379.07 479.9,379.35 480.3,379.53 480.7,379.6 481.1,379.56 481.5,379.41 481.89,379.15 482.29,378.8 482.69,378.37 483.09,377.88 483.49,377.33 483.89,376.76 484.29,376.19 484.68,375.63 485.08,375.1 485.48,374.63 485.88,374.23 486.28,373.92 486.68,373.71 487.08,373.61 487.47,373.62 487.87,373.73 488.27,373.96 488.67,374.28 489.07,374.69 489.47,375.16 489.87,375.69 490.26,376.26 490.66,376.84 491.06,377.4 491.46,377.94 491.86,378.43 492.26,378.85 492.66,379.19 493.05,379.43 493.45,379.57 493.85,379.6 494.25,379.51 494.65,379.32 495.05,379.03 495.45,378.65 495.84,378.19 496.24,377.67 496.64,377.12 497.04,376.54 497.44,375.97 497.84,375.42 498.24,374.91 498.63,374.47 499.03,374.1 499.43,373.83 499.83,373.66 500.23,373.6 500.63,373.65 501.03,373.81 501.42,374.07 501.82,374.43 502.22,374.86 502.62,375.36 503.02,375.91 503.42,376.48 503.82,377.06 504.21,377.62 504.61,378.14 505.01,378.6 505.41,378.99 505.81,379.3 506.21,379.5 506.61,379.59 507,379.58 507.4,379.45 507.8,379.22 508.2,378.89 508.6,378.48 509,378 509.4,377.46 509.79,376.9 510.19,376.32 510.59,375.75 510.99,375.22 511.39,374.73 511.79,374.32 512.19,373.99 512.58,373.75 512.98,373.62 513.38,373.61 513.78,373.7 514.18,373.9 514.58,374.2 514.98,374.59 515.38,375.05 515.77,375.57 516.17,376.13 516.57,376.7 516.97,377.27 517.37,377.82 517.77,378.32 518.17,378.76 518.56,379.12 518.96,379.39 519.36,379.55 519.76,379.6 520.16,379.54 520.56,379.37 520.96,379.11 521.35,378.74 521.75,378.3 522.15,377.8 522.55,377.25 522.95,376.68 523.35,376.1 523.75,375.54 524.14,375.02 524.54,374.56 524.94,374.18 525.34,373.89 525.74,373.69 526.14,373.6 526.54,373.63 526.93,373.76 527.33,374 527.73,374.34 528.13,374.76 528.53,375.24 528.93,375.78 529.33,376.35 529.72,376.92 530.12,377.49 530.52,378.02 530.92,378.5 531.32,378.91 531.72,379.23 532.12,379.46 532.51,379.58 532.91,379.59 533.31,379.49 533.71,379.28 534.11,378.98 534.51,378.58 534.91,378.11 535.3,377.59 535.7,377.03 536.1,376.45 536.5,375.88" fill="none" stroke="#d2d2d2" stroke-width="1.15"/><polyline points="452,378.15 452.4,377.63 452.8,377.07 453.2,376.5 453.59,375.93 453.99,375.38 454.39,374.88 454.79,374.44 455.19,374.08 455.59,373.81 455.99,373.65 456.38,373.6 456.78,373.66 457.18,373.83 457.58,374.09 457.98,374.46 458.38,374.9 458.78,375.4 459.17,375.95 459.57,376.52 459.97,377.1 460.37,377.66 460.77,378.18 461.17,378.64 461.57,379.02 461.96,379.31 462.36,379.51 462.76,379.6 463.16,379.57 463.56,379.44 463.96,379.2 464.36,378.86 464.75,378.44 465.15,377.96 465.55,377.42 465.95,376.85 466.35,376.28 466.75,375.71 467.15,375.18 467.54,374.7 467.94,374.29 468.34,373.97 468.74,373.74 469.14,373.62 469.54,373.61 469.94,373.71 470.33,373.92 470.73,374.22 471.13,374.62 471.53,375.09 471.93,375.61 472.33,376.17 472.73,376.75 473.12,377.32 473.52,377.86 473.92,378.36 474.32,378.79 474.72,379.14 475.12,379.4 475.52,379.56 475.92,379.6 476.31,379.53 476.71,379.36 477.11,379.08 477.51,378.71 477.91,378.26 478.31,377.76 478.71,377.2 479.1,376.63 479.5,376.06 479.9,375.5 480.3,374.99 480.7,374.53 481.1,374.15 481.5,373.87 481.89,373.68 482.29,373.6 482.69,373.63 483.09,373.78 483.49,374.02 483.89,374.37 484.29,374.79 484.68,375.28 485.08,375.82 485.48,376.39 485.88,376.97 486.28,377.53 486.68,378.06 487.08,378.54 487.47,378.94 487.87,379.25 488.27,379.47 488.67,379.59 489.07,379.59 489.47,379.48 489.87,379.26 490.26,378.95 490.66,378.55 491.06,378.08 491.46,377.55 491.86,376.99 492.26,376.41 492.66,375.84 493.05,375.3 493.45,374.8 493.85,374.38 494.25,374.03 494.65,373.78 495.05,373.64 495.45,373.6 495.84,373.68 496.24,373.86 496.64,374.14 497.04,374.52 497.44,374.97 497.84,375.49 498.24,376.04 498.63,376.61 499.03,377.19 499.43,377.74 499.83,378.25 500.23,378.7 500.63,379.07 501.03,379.35 501.42,379.53 501.82,379.6 502.22,379.56 502.62,379.41 503.02,379.15 503.42,378.8 503.82,378.37 504.21,377.88 504.61,377.33 505.01,376.76 505.41,376.19 505.81,375.63 506.21,375.1 506.61,374.63 507,374.23 507.4,373.92 507.8,373.71 508.2,373.61 508.6,373.62 509,373.73 509.4,373.96 509.79,374.28 510.19,374.69 510.59,375.16 510.99,375.69 511.39,376.26 511.79,376.84 512.19,377.4 512.58,377.94 512.98,378.43 513.38,378.85 513.78,379.19 514.18,379.43 514.58,379.57 514.98,379.6 515.38,379.51 515.77,379.32 516.17,379.03 516.57,378.65 516.97,378.19 517.37,377.67 517.77,377.12 518.17,376.54 518.56,375.97 518.96,375.42 519.36,374.91 519.76,374.47 520.16,374.1 520.56,373.83 520.96,373.66 521.35,373.6 521.75,373.65 522.15,373.81 522.55,374.07 522.95,374.43 523.35,374.86 523.75,375.36 524.14,375.91 524.54,376.48 524.94,377.06 525.34,377.62 525.74,378.14 526.14,378.6 526.54,378.99 526.93,379.3 527.33,379.5 527.73,379.59 528.13,379.58 528.53,379.45 528.93,379.22 529.33,378.89 529.72,378.48 530.12,378 530.52,377.46 530.92,376.9 531.32,376.32 531.72,375.75 532.12,375.22 532.51,374.73 532.91,374.32 533.31,373.99 533.71,373.75 534.11,373.62 534.51,373.61 534.91,373.7 535.3,373.9 535.7,374.2 536.1,374.59 536.5,375.05" fill="none" stroke="#d2d2d2" stroke-width="1.15"/>
<polyline points="458.5,375.88 458.9,375.34 459.29,374.84 459.69,374.41 460.09,374.06 460.49,373.8 460.88,373.65 461.28,373.6 461.68,373.66 462.07,373.83 462.47,374.11 462.87,374.47 463.26,374.91 463.66,375.42 464.06,375.97 464.46,376.54 464.85,377.11 465.25,377.66 465.65,378.18 466.04,378.64 466.44,379.02 466.84,379.31 467.24,379.51 467.63,379.6 468.03,379.57 468.43,379.44 468.82,379.21 469.22,378.87 469.62,378.46 470.01,377.98 470.41,377.44 470.81,376.88 471.21,376.3 471.6,375.74 472,375.21" fill="none" stroke="#6690cf" stroke-width="1.15"/><polyline points="458.5,375.05 458.9,375.57 459.29,376.12 459.69,376.7 460.09,377.27 460.49,377.81 460.88,378.31 461.28,378.75 461.68,379.11 462.07,379.38 462.47,379.54 462.87,379.6 463.26,379.55 463.66,379.39 464.06,379.12 464.46,378.77 464.85,378.33 465.25,377.83 465.65,377.29 466.04,376.72 466.44,376.14 466.84,375.59 467.24,375.07 467.63,374.6 468.03,374.21 468.43,373.91 468.82,373.71 469.22,373.61 469.62,373.62 470.01,373.74 470.41,373.97 470.81,374.29 471.21,374.7 471.6,375.18 472,375.71" fill="none" stroke="#6690cf" stroke-width="1.15"/>
<polyline points="494.5,379.41 494.9,379.15 495.3,378.8 495.7,378.37 496.09,377.87 496.49,377.33 496.89,376.76 497.29,376.18 497.69,375.62 498.09,375.09 498.49,374.63 498.89,374.23 499.28,373.92 499.68,373.71 500.08,373.61 500.48,373.62 500.88,373.74 501.28,373.96 501.68,374.28 502.07,374.69 502.47,375.17 502.87,375.7 503.27,376.27 503.67,376.84 504.07,377.41 504.47,377.95 504.86,378.44 505.26,378.86 505.66,379.19 506.06,379.44 506.46,379.57 506.86,379.6 507.26,379.51 507.66,379.32 508.05,379.02 508.45,378.64 508.85,378.18 509.25,377.66 509.65,377.11 510.05,376.53 510.45,375.96 510.84,375.41 511.24,374.9 511.64,374.46 512.04,374.1 512.44,373.83 512.84,373.66 513.24,373.6 513.64,373.65 514.03,373.81 514.43,374.08 514.83,374.43 515.23,374.87 515.63,375.37 516.03,375.92 516.43,376.49 516.82,377.07 517.22,377.63 517.62,378.15 518.02,378.61 518.42,379 518.82,379.3 519.22,379.5 519.61,379.59 520.01,379.58 520.41,379.45 520.81,379.21 521.21,378.88 521.61,378.47 522.01,377.99 522.41,377.45 522.8,376.88 523.2,376.31 523.6,375.74 524,375.21" fill="none" stroke="#6690cf" stroke-width="1.15"/><polyline points="494.5,373.86 494.9,373.68 495.3,373.6 495.7,373.64 496.09,373.78 496.49,374.03 496.89,374.37 497.29,374.8 497.69,375.29 498.09,375.83 498.49,376.4 498.89,376.98 499.28,377.54 499.68,378.07 500.08,378.54 500.48,378.94 500.88,379.26 501.28,379.48 501.68,379.59 502.07,379.59 502.47,379.48 502.87,379.26 503.27,378.94 503.67,378.54 504.07,378.07 504.47,377.54 504.86,376.98 505.26,376.4 505.66,375.83 506.06,375.29 506.46,374.8 506.86,374.37 507.26,374.03 507.66,373.78 508.05,373.64 508.45,373.6 508.85,373.68 509.25,373.86 509.65,374.15 510.05,374.53 510.45,374.98 510.84,375.5 511.24,376.05 511.64,376.62 512.04,377.2 512.44,377.75 512.84,378.26 513.24,378.71 513.64,379.08 514.03,379.36 514.43,379.53 514.83,379.6 515.23,379.56 515.63,379.4 516.03,379.15 516.43,378.8 516.82,378.36 517.22,377.87 517.62,377.32 518.02,376.75 518.42,376.18 518.82,375.61 519.22,375.09 519.61,374.62 520.01,374.23 520.41,373.92 520.81,373.71 521.21,373.61 521.61,373.62 522.01,373.74 522.41,373.96 522.8,374.29 523.2,374.7 523.6,375.18 524,375.71" fill="none" stroke="#6690cf" stroke-width="1.15"/>
<line x1="458.7" y1="390.6" x2="463.3" y2="390.6" stroke="#5c8fd6" stroke-width="1"/>
<line x1="461.2" y1="393.5" x2="465.8" y2="393.5" stroke="#5c8fd6" stroke-width="1"/>
<line x1="459" y1="396.4" x2="463.6" y2="396.4" stroke="#5c8fd6" stroke-width="1"/>
<line x1="460.6" y1="399.3" x2="465.2" y2="399.3" stroke="#5c8fd6" stroke-width="1"/>
<line x1="463.2" y1="402.2" x2="467.8" y2="402.2" stroke="#5c8fd6" stroke-width="1"/>
<line x1="461.8" y1="405.1" x2="466.4" y2="405.1" stroke="#5c8fd6" stroke-width="1"/>
<line x1="463.7" y1="408" x2="468.3" y2="408" stroke="#5c8fd6" stroke-width="1"/>
<line x1="459.4" y1="410.9" x2="464" y2="410.9" stroke="#5c8fd6" stroke-width="1"/>
<line x1="462" y1="413.8" x2="466.6" y2="413.8" stroke="#5c8fd6" stroke-width="1"/>
<line x1="500.3" y1="390.2" x2="504.9" y2="390.2" stroke="#5c8fd6" stroke-width="1"/>
<line x1="510.3" y1="390.2" x2="514.9" y2="390.2" stroke="#5c8fd6" stroke-width="1"/>
<line x1="494.8" y1="392.85" x2="499.4" y2="392.85" stroke="#5c8fd6" stroke-width="1"/>
<line x1="503.8" y1="392.85" x2="508.4" y2="392.85" stroke="#5c8fd6" stroke-width="1"/>
<line x1="513.3" y1="392.85" x2="517.9" y2="392.85" stroke="#5c8fd6" stroke-width="1"/>
<line x1="495.8" y1="395.5" x2="500.4" y2="395.5" stroke="#5c8fd6" stroke-width="1"/>
<line x1="504.8" y1="395.5" x2="509.4" y2="395.5" stroke="#5c8fd6" stroke-width="1"/>
<line x1="514.8" y1="395.5" x2="519.4" y2="395.5" stroke="#5c8fd6" stroke-width="1"/>
<line x1="495.3" y1="398.15" x2="499.9" y2="398.15" stroke="#5c8fd6" stroke-width="1"/>
<line x1="503.3" y1="398.15" x2="507.9" y2="398.15" stroke="#5c8fd6" stroke-width="1"/>
<line x1="511.8" y1="398.15" x2="516.4" y2="398.15" stroke="#5c8fd6" stroke-width="1"/>
<line x1="497.8" y1="400.8" x2="502.4" y2="400.8" stroke="#5c8fd6" stroke-width="1"/>
<line x1="506.8" y1="400.8" x2="511.4" y2="400.8" stroke="#5c8fd6" stroke-width="1"/>
<line x1="515.8" y1="400.8" x2="520.4" y2="400.8" stroke="#5c8fd6" stroke-width="1"/>
<line x1="496.3" y1="403.45" x2="500.9" y2="403.45" stroke="#5c8fd6" stroke-width="1"/>
<line x1="505.3" y1="403.45" x2="509.9" y2="403.45" stroke="#5c8fd6" stroke-width="1"/>
<line x1="515.3" y1="403.45" x2="519.9" y2="403.45" stroke="#5c8fd6" stroke-width="1"/>
<line x1="497.3" y1="406.1" x2="501.9" y2="406.1" stroke="#5c8fd6" stroke-width="1"/>
<line x1="506.3" y1="406.1" x2="510.9" y2="406.1" stroke="#5c8fd6" stroke-width="1"/>
<line x1="514.3" y1="406.1" x2="518.9" y2="406.1" stroke="#5c8fd6" stroke-width="1"/>
<line x1="497.8" y1="408.75" x2="502.4" y2="408.75" stroke="#5c8fd6" stroke-width="1"/>
<line x1="506.8" y1="408.75" x2="511.4" y2="408.75" stroke="#5c8fd6" stroke-width="1"/>
<line x1="516.8" y1="408.75" x2="521.4" y2="408.75" stroke="#5c8fd6" stroke-width="1"/>
<text x="449.4" y="399.6" font-size="6" font-weight="bold" fill="#333" text-anchor="end">Reads</text>
<text x="449.8" y="407.1" font-size="6.3" font-weight="bold" fill="#333" text-anchor="end">&gt;50-100x</text>
<text x="547.4" y="356.8" font-size="9.3" fill="#4a4a4a">Cases</text>
<text x="543.4" y="413" font-size="9.3" fill="#4a4a4a">Controls</text>
<line x1="563.3" y1="368.8" x2="715" y2="368.8" stroke="#6a6a6a" stroke-width="1.2"/><rect x="573.5" y="361.3" width="41.5" height="15" fill="#c8daf4" stroke="#56606c" stroke-width="1"/><rect x="627.4" y="361.3" width="21.6" height="15" fill="#c8daf4" stroke="#56606c" stroke-width="1"/><rect x="660.8" y="361.3" width="35.9" height="15" fill="#c8daf4" stroke="#56606c" stroke-width="1"/><line x1="606.6" y1="361.4" x2="606.6" y2="376.2" stroke="#a8444c" stroke-width="1.2"/><line x1="636.2" y1="361.4" x2="636.2" y2="376.2" stroke="#a8444c" stroke-width="1.2"/><line x1="672.6" y1="361.4" x2="672.6" y2="376.2" stroke="#a8444c" stroke-width="1.2"/>
<line x1="562.1" y1="425.5" x2="714.6" y2="425.5" stroke="#6a6a6a" stroke-width="1.2"/><rect x="572.2" y="418" width="42" height="15" fill="#c8daf4" stroke="#56606c" stroke-width="1"/><rect x="625.6" y="418" width="22.6" height="15" fill="#c8daf4" stroke="#56606c" stroke-width="1"/><rect x="659.9" y="418" width="36.2" height="15" fill="#c8daf4" stroke="#56606c" stroke-width="1"/><line x1="671.3" y1="418.1" x2="671.3" y2="432.9" stroke="#a8444c" stroke-width="1.2"/>
<path d="M610.5,379.5 L635.9,390.5 L669.3,379.5" fill="none" stroke="#a5a5a5" stroke-width="0.9"/>
<line x1="635.9" y1="381" x2="635.9" y2="390.5" stroke="#888" stroke-width="0.8" stroke-dasharray="1,0.8"/>
<path d="M609.8,377.4 L610.06,380.57 L607.31,379.37 z" fill="#111"/>
<path d="M635.9,378.6 L637.4,381.4 L634.4,381.4 z" fill="#111"/>
<path d="M670,377.4 L672.49,379.37 L669.74,380.57 z" fill="#111"/>
<text x="627.9" y="401.4" font-size="9.1" fill="#444">LOFs</text>
<line x1="544.5" y1="361" x2="544.5" y2="419" stroke="#e0e0e0" stroke-width="0.8"/>
</svg>
<ul class="bl" style="left:751.5px;top:332.7px;line-height:17.3px;" id="sb">
<li>Common <i>and</i> rare<br>variants</li>
<li><span style="letter-spacing:0.17px">Protein-coding</span><br>variants</li>
<li><span style="letter-spacing:0.15px">Can implicate</span><br>individual <b>genes</b></li>
</ul>
</body></html>
